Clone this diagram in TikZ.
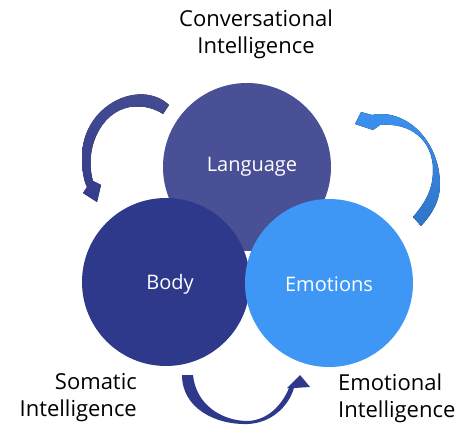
\documentclass[tikz,border=0pt]{standalone}
\usepackage{fontspec}
\setmainfont{Open Sans}
\begin{document}
\begin{tikzpicture}[x=1pt,y=-1pt,
  circ/.style={circle,minimum size=168pt,inner sep=0pt},
  intext/.style={text=white,font=\fontsize{20}{24}\selectfont},
  outlabel/.style={text=black,font=\fontsize{22}{27}\selectfont,inner sep=0pt}]
\definecolor{langc}{HTML}{4A5096}
\definecolor{bodyc}{HTML}{2F398C}
\definecolor{emoc}{HTML}{3F97F5}
\definecolor{arrA}{HTML}{454D93}
\definecolor{arrAd}{HTML}{343C8C}
\definecolor{arrB}{HTML}{3C92F0}
\definecolor{arrBd}{HTML}{2E74C9}
\definecolor{arrC}{HTML}{2F398C}
\useasboundingbox (0,0) rectangle (474,441);
% circles
\node[circ,fill=langc] (lang) at (247,167) {};
\node[circ,fill=bodyc] (body) at (166,282) {};
\node[circ,fill=emoc] (emo) at (329,283) {};
\node[intext] (langt) at (252,167) {Language};
\node[intext] (bodyt) at (170,284) {Body};
\node[intext] (emot) at (329,284) {Emotions};
% top-left arrow
\fill[top color=arrA,bottom color=arrAd] (169,105) .. controls (140,78) and (82,105) .. (82,157)
  .. controls (82,172) and (84,181) .. (87,187)
  -- (83,193) -- (97,202) -- (101,185) -- (93,181)
  .. controls (84,150) and (100,112) .. (130,107)
  .. controls (145,105) and (155,109) .. (163,114) -- cycle;
% right arrow
\fill[top color=arrB,bottom color=arrBd] (355,124) -- (361,112) -- (372,115)
  .. controls (405,108) and (440,140) .. (440,185)
  .. controls (440,200) and (433,213) .. (421,226)
  -- (413,217)
  .. controls (425,203) and (433,190) .. (433,170)
  .. controls (433,140) and (410,122) .. (380,125) -- (373,130) -- cycle;
% bottom arrow
\fill[arrC] (182,375) .. controls (182,408) and (215,425) .. (248,424)
  .. controls (270,423) and (288,408) .. (294,388)
  -- (310,387) -- (300,375) -- (287,388) -- (289,388)
  .. controls (282,405) and (268,420) .. (248,421)
  .. controls (222,421) and (196,405) .. (193,375) -- cycle;
% labels
\node[outlabel,align=center] (conv) at (256,34) {Conversational\\Intelligence};
\node[outlabel,align=right,anchor=east] (soma) at (137,398) {Somatic\\Intelligence};
\node[outlabel,align=left,anchor=west] (emol) at (338,398) {Emotional\\Intelligence};
\end{tikzpicture}
\end{document}
